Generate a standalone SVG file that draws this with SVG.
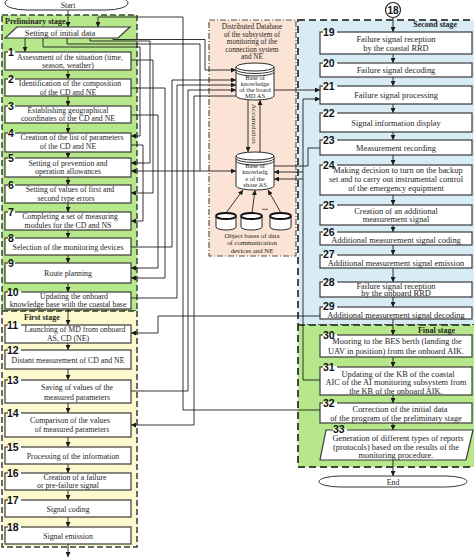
<svg xmlns="http://www.w3.org/2000/svg" width="474" height="557" viewBox="0 0 474 557">
<defs>
<marker id="ah" viewBox="0 0 6 6" refX="6" refY="3" markerWidth="5" markerHeight="5" orient="auto" markerUnits="userSpaceOnUse"><path d="M0,0 L6,3 L0,6 z" fill="#1a1a1a"/></marker>
<style>
.box{fill:#fff;stroke:#3a3a3a;stroke-width:1.2}
.cyl{fill:#fff;stroke:#2a2a2a;stroke-width:1}
.t{font-family:"Liberation Serif",serif;font-size:7.8px;fill:#1e1e1e;text-anchor:middle}
.tr{font-family:"Liberation Serif",serif;font-size:8.4px;fill:#1e1e1e;text-anchor:middle}
.tm{font-family:"Liberation Serif",serif;font-size:7.2px;fill:#1e1e1e;text-anchor:middle}
.tc{font-family:"Liberation Serif",serif;font-size:6.5px;fill:#1e1e1e;text-anchor:middle}
.st{font-family:"Liberation Serif",serif;font-size:8px;font-weight:bold;fill:#1e1e1e}
.n{font-family:"Liberation Sans",sans-serif;font-size:10.5px;font-weight:bold;fill:#111}
.gap{fill:#fff}
.c{fill:none;stroke:#1e1e1e;stroke-width:0.9}
.a{marker-end:url(#ah)}
</style>
</defs>

<g id="panels">
<rect x="2" y="15" width="135" height="296" fill="#b6e78b" stroke="#3a4a36" stroke-width="1.5" stroke-dasharray="6 3"/>
<rect x="2" y="311" width="135" height="236" fill="#fdf9cf" stroke="#3a3a36" stroke-width="1.5" stroke-dasharray="6 3"/>
<rect x="209" y="20" width="87" height="236" fill="#fbe4d5" stroke="#555" stroke-width="1.2" stroke-dasharray="6 2 1 2"/>
<rect x="298" y="20" width="180" height="305" fill="#d8ecf5" stroke="#4a4a4a" stroke-width="2" stroke-dasharray="7 4"/>
<rect x="298" y="325" width="180" height="142" fill="#b6e78b" stroke="#3a4a36" stroke-width="2" stroke-dasharray="7 4"/>
<text class="st" x="5" y="24">Preliminary stage</text>
<text class="st" x="24" y="320">First stage</text>
<text class="st" x="457" y="27" text-anchor="end">Second stage</text>
<text class="st" x="455" y="333" text-anchor="end">Final stage</text>
</g>

<g id="connectors">
<path class="c a" d="M68,10 V27"/>
<path class="c a" d="M25,38 V52"/>
<path class="c a" d="M68,70 V79"/>
<path class="c a" d="M68,96 V106"/>
<path class="c a" d="M68,123 V133"/>
<path class="c a" d="M68,152 V158"/>
<path class="c a" d="M68,177 V185"/>
<path class="c a" d="M68,203 V212"/>
<path class="c a" d="M68,230 V238"/>
<path class="c a" d="M68,255 V263"/>
<path class="c a" d="M68,283 V292"/>
<path class="c a" d="M68,309 V325"/>
<path class="c a" d="M68,343 V350"/>
<path class="c a" d="M68,369 V380"/>
<path class="c a" d="M68,403 V413"/>
<path class="c a" d="M68,437 V447"/>
<path class="c a" d="M68,464 V473"/>
<path class="c a" d="M68,490 V500"/>
<path class="c a" d="M68,517 V527"/>
<path class="c a" d="M68,544 V557"/>

<path class="c a" d="M393,18 V32"/>
<path class="c a" d="M393,54 V63"/>
<path class="c a" d="M393,77 V86"/>
<path class="c a" d="M393,104 V113"/>
<path class="c a" d="M393,132 V140"/>
<path class="c a" d="M393,155 V165"/>
<path class="c a" d="M393,195 V205"/>
<path class="c a" d="M393,225 V232"/>
<path class="c a" d="M393,245 V255"/>
<path class="c a" d="M393,268 V282"/>
<path class="c a" d="M393,297 V307"/>
<path class="c a" d="M393,319 V335"/>
<path class="c a" d="M393,357 V367"/>
<path class="c a" d="M393,395 V403"/>
<path class="c a" d="M393,423 V430"/>
<path class="c a" d="M393,460 V476"/>

<path class="c a" d="M43,38 V47 H140 V136 H131"/>
<path class="c a" d="M67,38 V44 H200 V171 H236"/>
<path class="c a" d="M200,171 H131"/>
<path class="c a" d="M90,38 V41 H150 V163 H131"/>
<path class="c a" d="M113,38 V39.5 H205 V70 H236"/>
<path class="c a" d="M320,410 H183 V17 H98 V27"/>
<path class="c a" d="M131,60 H153 V193 H131"/>
<path class="c a" d="M131,88 H165 V278 H131"/>
<path class="c a" d="M131,115 H158 V268 H131"/>
<path class="c a" d="M131,145 H143 V221 H131"/>
<path class="c a" d="M131,247 H172 V80 H236"/>
<path class="c a" d="M131,298 H177 V85 H236"/>
<path class="c a" d="M131,391 H188 V90 H236"/>
<path class="c a" d="M238,96 H194 V425 H131"/>
<path class="c a" d="M320,316 H158 V333 H131"/>

<path class="c a" d="M274,90 H320"/>
<path class="c" d="M320,148 H308 V166 H274"/>
<path class="c a" d="M320,380 H303 V99 H320"/>
<path class="c a" d="M303,172 H274"/>
<path class="c a" d="M303,179 H274"/>

<path class="c a" d="M248,100 V152"/>
<path class="c a" d="M260,152 V100"/>
<path class="c a" d="M226,213 L243,190"/>
<path class="c a" d="M252,213 L255,190"/>
<path class="c a" d="M281,213 L268,190"/>
</g>

<g id="start">
<rect x="5" y="-4" width="123" height="14" rx="22" ry="7" fill="#fff" stroke="#333" stroke-width="1"/>
<text class="t" x="68" y="8">Start</text>
</g>

<g id="initial">
<polygon points="17,27 130,27 118,38 5,38" fill="#fff" stroke="#333" stroke-width="1.1"/>
<text class="t" x="60" y="35.5" style="font-size:8.4px">Setting of initial data</text>
</g>

<g id="n1"><rect class="box" x="5" y="52" width="126" height="18"/><rect class="gap" x="8" y="51" width="7" height="2"/><text class="n" x="8" y="56">1</text><text class="t" x="70" y="59.5">Assessment of the situation (time,</text><text class="t" x="68" y="68">season, weather)</text></g>
<g id="n2"><rect class="box" x="5" y="79" width="126" height="17"/><rect class="gap" x="8" y="78" width="7" height="2"/><text class="n" x="8" y="83">2</text><text class="t" x="70" y="86">Identification of the composition</text><text class="t" x="68" y="94.5">of the CD and NE</text></g>
<g id="n3"><rect class="box" x="5" y="106" width="126" height="17"/><rect class="gap" x="8" y="105" width="7" height="2"/><text class="n" x="8" y="110">3</text><text class="t" x="68" y="112.5">Establishing geographical</text><text class="t" x="68" y="121">coordinates of the CD and NE</text></g>
<g id="n4"><rect class="box" x="5" y="133" width="126" height="19"/><rect class="gap" x="8" y="132" width="7" height="2"/><text class="n" x="8" y="137">4</text><text class="t" x="72" y="139.5">Creation of the list of parameters</text><text class="t" x="68" y="148.5">of the CD and NE</text></g>
<g id="n5"><rect class="box" x="5" y="158" width="126" height="19"/><rect class="gap" x="8" y="157" width="7" height="2"/><text class="n" x="8" y="162">5</text><text class="t" x="68" y="165.5">Setting of prevention and</text><text class="t" x="68" y="174">operation allowances</text></g>
<g id="n6"><rect class="box" x="5" y="185" width="126" height="18"/><rect class="gap" x="8" y="184" width="7" height="2"/><text class="n" x="8" y="189">6</text><text class="t" x="70" y="192">Setting of values of first and</text><text class="t" x="66" y="200.5">second type errors</text></g>
<g id="n7"><rect class="box" x="5" y="212" width="126" height="18"/><rect class="gap" x="8" y="211" width="7" height="2"/><text class="n" x="8" y="216">7</text><text class="t" x="70" y="219">Completing a set of measuring</text><text class="t" x="68" y="227.5">modules for the CD and NS</text></g>
<g id="n8"><rect class="box" x="5" y="238" width="126" height="17"/><rect class="gap" x="8" y="237" width="7" height="2"/><text class="n" x="8" y="242">8</text><text class="t" x="68" y="249.5">Selection of the monitoring devices</text></g>
<g id="n9"><rect class="box" x="5" y="263" width="126" height="20"/><rect class="gap" x="8" y="262" width="7" height="2"/><text class="n" x="8" y="267">9</text><text class="t" x="68" y="276">Route planning</text></g>
<g id="n10"><rect class="box" x="5" y="292" width="126" height="17"/><rect class="gap" x="8" y="291" width="13" height="2"/><text class="n" x="7" y="296">10</text><text class="t" x="74" y="299">Updating the onboard</text><text class="t" x="68" y="307">knowledge base with the coastal base</text></g>
<g id="n11"><rect class="box" x="5" y="325" width="126" height="18"/><rect class="gap" x="8" y="324" width="13" height="2"/><text class="n" x="7" y="329">11</text><text class="t" x="75" y="332">Launching of MD from onboard</text><text class="t" x="68" y="340.5">AS, CD (NE)</text></g>
<g id="n12"><rect class="box" x="5" y="350" width="126" height="19"/><rect class="gap" x="8" y="349" width="13" height="2"/><text class="n" x="7" y="354">12</text><text class="t" x="68" y="362.5">Distant measurement of CD and NE</text></g>
<g id="n13"><rect class="box" x="5" y="380" width="126" height="23"/><rect class="gap" x="8" y="379" width="13" height="2"/><text class="n" x="7" y="384">13</text><text class="t" x="77" y="390">Saving of values of the</text><text class="t" x="77" y="399.5">measured parameters</text></g>
<g id="n14"><rect class="box" x="5" y="413" width="126" height="24"/><rect class="gap" x="8" y="412" width="13" height="2"/><text class="n" x="7" y="417">14</text><text class="t" x="70" y="423">Comparison of the values</text><text class="t" x="72" y="432">of measured parameters</text></g>
<g id="n15"><rect class="box" x="5" y="447" width="126" height="17"/><rect class="gap" x="8" y="446" width="13" height="2"/><text class="n" x="7" y="451">15</text><text class="t" x="73" y="458.5">Processing of the information</text></g>
<g id="n16"><rect class="box" x="5" y="473" width="126" height="17"/><rect class="gap" x="8" y="472" width="13" height="2"/><text class="n" x="7" y="477">16</text><text class="t" x="75" y="480">Creation of a failure</text><text class="t" x="68" y="488">or pre-failure signal</text></g>
<g id="n17"><rect class="box" x="5" y="500" width="126" height="17"/><rect class="gap" x="8" y="499" width="13" height="2"/><text class="n" x="7" y="504">17</text><text class="t" x="68" y="511.5">Signal coding</text></g>
<g id="n18"><rect class="box" x="5" y="527" width="126" height="17"/><rect class="gap" x="8" y="526" width="13" height="2"/><text class="n" x="7" y="531">18</text><text class="t" x="68" y="538.5">Signal emission</text></g>

<g id="database">
<text class="tm" x="252" y="29">Distributed Database</text>
<text class="tm" x="252" y="36.5">of the subsystem of</text>
<text class="tm" x="252" y="44">monitoring of the</text>
<text class="tm" x="252" y="51.5">connection system</text>
<text class="tm" x="252" y="59">and NE</text>
<text class="tm" x="252" y="238" style="font-size:6.8px">Object bases of data</text>
<text class="tm" x="252" y="245.3" style="font-size:6.8px">of communication</text>
<text class="tm" x="252" y="252.6" style="font-size:6.8px">devices and NE</text>
<text class="tc" transform="translate(252,104) rotate(90)" style="text-anchor:start;font-size:7px">Accumulation</text>
</g>

<g id="kb-board">
<path class="cyl" d="M236,67 V96 A19,4 0 0 0 274,96 V67"/>
<ellipse class="cyl" cx="255" cy="67" rx="19" ry="4"/>
<path class="c" d="M236,69.5 A19,4 0 0 0 274,69.5 M236,72 A19,4 0 0 0 274,72"/>
<text class="tc" x="255" y="80">Base of</text>
<text class="tc" x="255" y="86">knowledge</text>
<text class="tc" x="255" y="92">of the board</text>
<text class="tc" x="255" y="98">MD AS</text>
</g>

<g id="kb-shore">
<path class="cyl" d="M236,156 V186 A19,4 0 0 0 274,186 V156"/>
<ellipse class="cyl" cx="255" cy="156" rx="19" ry="4"/>
<path class="c" d="M236,158.5 A19,4 0 0 0 274,158.5 M236,161 A19,4 0 0 0 274,161"/>
<text class="tc" x="255" y="167.5">Base of</text>
<text class="tc" x="255" y="174">knowledg</text>
<text class="tc" x="255" y="180.5">e of the</text>
<text class="tc" x="255" y="187">shore AS</text>
</g>

<g id="obj-bases">
<path class="cyl" d="M216,216 V227 A10,3 0 0 0 236,227 V216"/>
<ellipse cx="226" cy="216" rx="10" ry="3" fill="#fff" stroke="#111" stroke-width="1.8"/>
<path class="cyl" d="M241,216 V227 A10.5,3 0 0 0 262,227 V216"/>
<ellipse cx="251.5" cy="216" rx="10.5" ry="3" fill="#fff" stroke="#111" stroke-width="1.8"/>
<path class="cyl" d="M270,216 V227 A10.5,3 0 0 0 291,227 V216"/>
<ellipse cx="280.5" cy="216" rx="10.5" ry="3" fill="#fff" stroke="#111" stroke-width="1.8"/>
<text class="st" x="265" y="210" text-anchor="middle">...</text>
</g>

<g id="c18">
<circle cx="393" cy="10" r="7.5" fill="#fff" stroke="#222" stroke-width="1.2"/>
<text class="n" x="393" y="13.5" text-anchor="middle" style="font-size:10px">18</text>
</g>

<g id="n19"><rect class="box" x="320" y="32" width="152" height="22"/><rect class="gap" x="323" y="31" width="14" height="2"/><text class="n" x="323" y="36">19</text><text class="tr" x="396" y="41.5">Failure signal reception</text><text class="tr" x="396" y="50.5">by the coastal RRD</text></g>
<g id="n20"><rect class="box" x="320" y="63" width="152" height="14"/><rect class="gap" x="323" y="62" width="14" height="2"/><text class="n" x="323" y="67">20</text><text class="tr" x="396" y="73">Failure signal decoding</text></g>
<g id="n21"><rect class="box" x="320" y="86" width="152" height="18"/><rect class="gap" x="323" y="85" width="14" height="2"/><text class="n" x="323" y="90">21</text><text class="tr" x="396" y="98">Failure signal processing</text></g>
<g id="n22"><rect class="box" x="320" y="113" width="152" height="19"/><rect class="gap" x="323" y="112" width="14" height="2"/><text class="n" x="323" y="117">22</text><text class="tr" x="396" y="125.5">Signal information display</text></g>
<g id="n23"><rect class="box" x="320" y="140" width="152" height="15"/><rect class="gap" x="323" y="139" width="14" height="2"/><text class="n" x="323" y="144">23</text><text class="tr" x="396" y="150.5">Measurement recording</text></g>
<g id="n24"><rect class="box" x="320" y="165" width="152" height="30"/><rect class="gap" x="323" y="164" width="14" height="2"/><text class="n" x="323" y="169">24</text><text class="tr" x="398" y="173">Making decision to turn on the backup</text><text class="tr" x="396" y="182">set and to carry out instrumental control</text><text class="tr" x="396" y="191">of the emergency equipment</text></g>
<g id="n25"><rect class="box" x="320" y="205" width="152" height="20"/><rect class="gap" x="323" y="204" width="14" height="2"/><text class="n" x="323" y="209">25</text><text class="tr" x="396" y="213.5">Creation of an additional</text><text class="tr" x="396" y="222">measurement signal</text></g>
<g id="n26"><rect class="box" x="320" y="232" width="152" height="13"/><rect class="gap" x="323" y="231" width="14" height="2"/><text class="n" x="323" y="236">26</text><text class="tr" x="396" y="242.5">Additional measurement signal coding</text></g>
<g id="n27"><rect class="box" x="320" y="255" width="152" height="13"/><rect class="gap" x="323" y="254" width="14" height="2"/><text class="n" x="323" y="258">27</text><text class="tr" x="396" y="266">Additional measurement signal emission</text></g>
<g id="n28"><rect class="box" x="320" y="282" width="152" height="15"/><rect class="gap" x="323" y="281" width="14" height="2"/><text class="n" x="323" y="286">28</text><text class="tr" x="396" y="288.5">Failure signal reception</text><text class="tr" x="396" y="296">by the onboard RRD</text></g>
<g id="n29"><rect class="box" x="320" y="307" width="152" height="12"/><rect class="gap" x="323" y="306" width="14" height="2"/><text class="n" x="323" y="310">29</text><text class="tr" x="396" y="317.5">Additional measurement signal decoding</text></g>
<g id="n30"><rect class="box" x="320" y="335" width="152" height="22"/><rect class="gap" x="323" y="334" width="14" height="2"/><text class="n" x="323" y="339">30</text><text class="tr" x="397" y="344">Mooring to the BES berth (landing the</text><text class="tr" x="396" y="353.5">UAV in position) from the onboard AIK.</text></g>
<g id="n31"><rect class="box" x="320" y="367" width="152" height="28"/><rect class="gap" x="323" y="366" width="14" height="2"/><text class="n" x="323" y="371">31</text><text class="tr" x="398" y="376.5">Updating of the KB of the coastal</text><text class="tr" x="396" y="385">AIC of the AI monitoring subsystem from</text><text class="tr" x="396" y="393.5">the KB of the onboard AIK.</text></g>
<g id="n32"><rect class="box" x="320" y="403" width="152" height="20"/><rect class="gap" x="323" y="402" width="14" height="2"/><text class="n" x="323" y="407">32</text><text class="tr" x="400" y="411.5">Correction of the initial data</text><text class="tr" x="396" y="420.5">of the program of the preliminary stage</text></g>
<g id="n33"><polygon points="326,430 473,430 466,460 320,460" fill="#fff" stroke="#3a3a3a" stroke-width="1.2"/><rect class="gap" x="333" y="429" width="14" height="2"/><text class="n" x="333" y="433">33</text><text class="tr" x="398" y="441">Generation of different types of reports</text><text class="tr" x="396" y="449.5">(protocols) based on the results of the</text><text class="tr" x="396" y="458">monitoring procedure.</text></g>

<g id="end">
<rect x="319" y="476" width="148" height="11" rx="22" ry="5.5" fill="#fff" stroke="#333" stroke-width="1"/>
<text class="t" x="393" y="484.5">End</text>
</g>
</svg>
